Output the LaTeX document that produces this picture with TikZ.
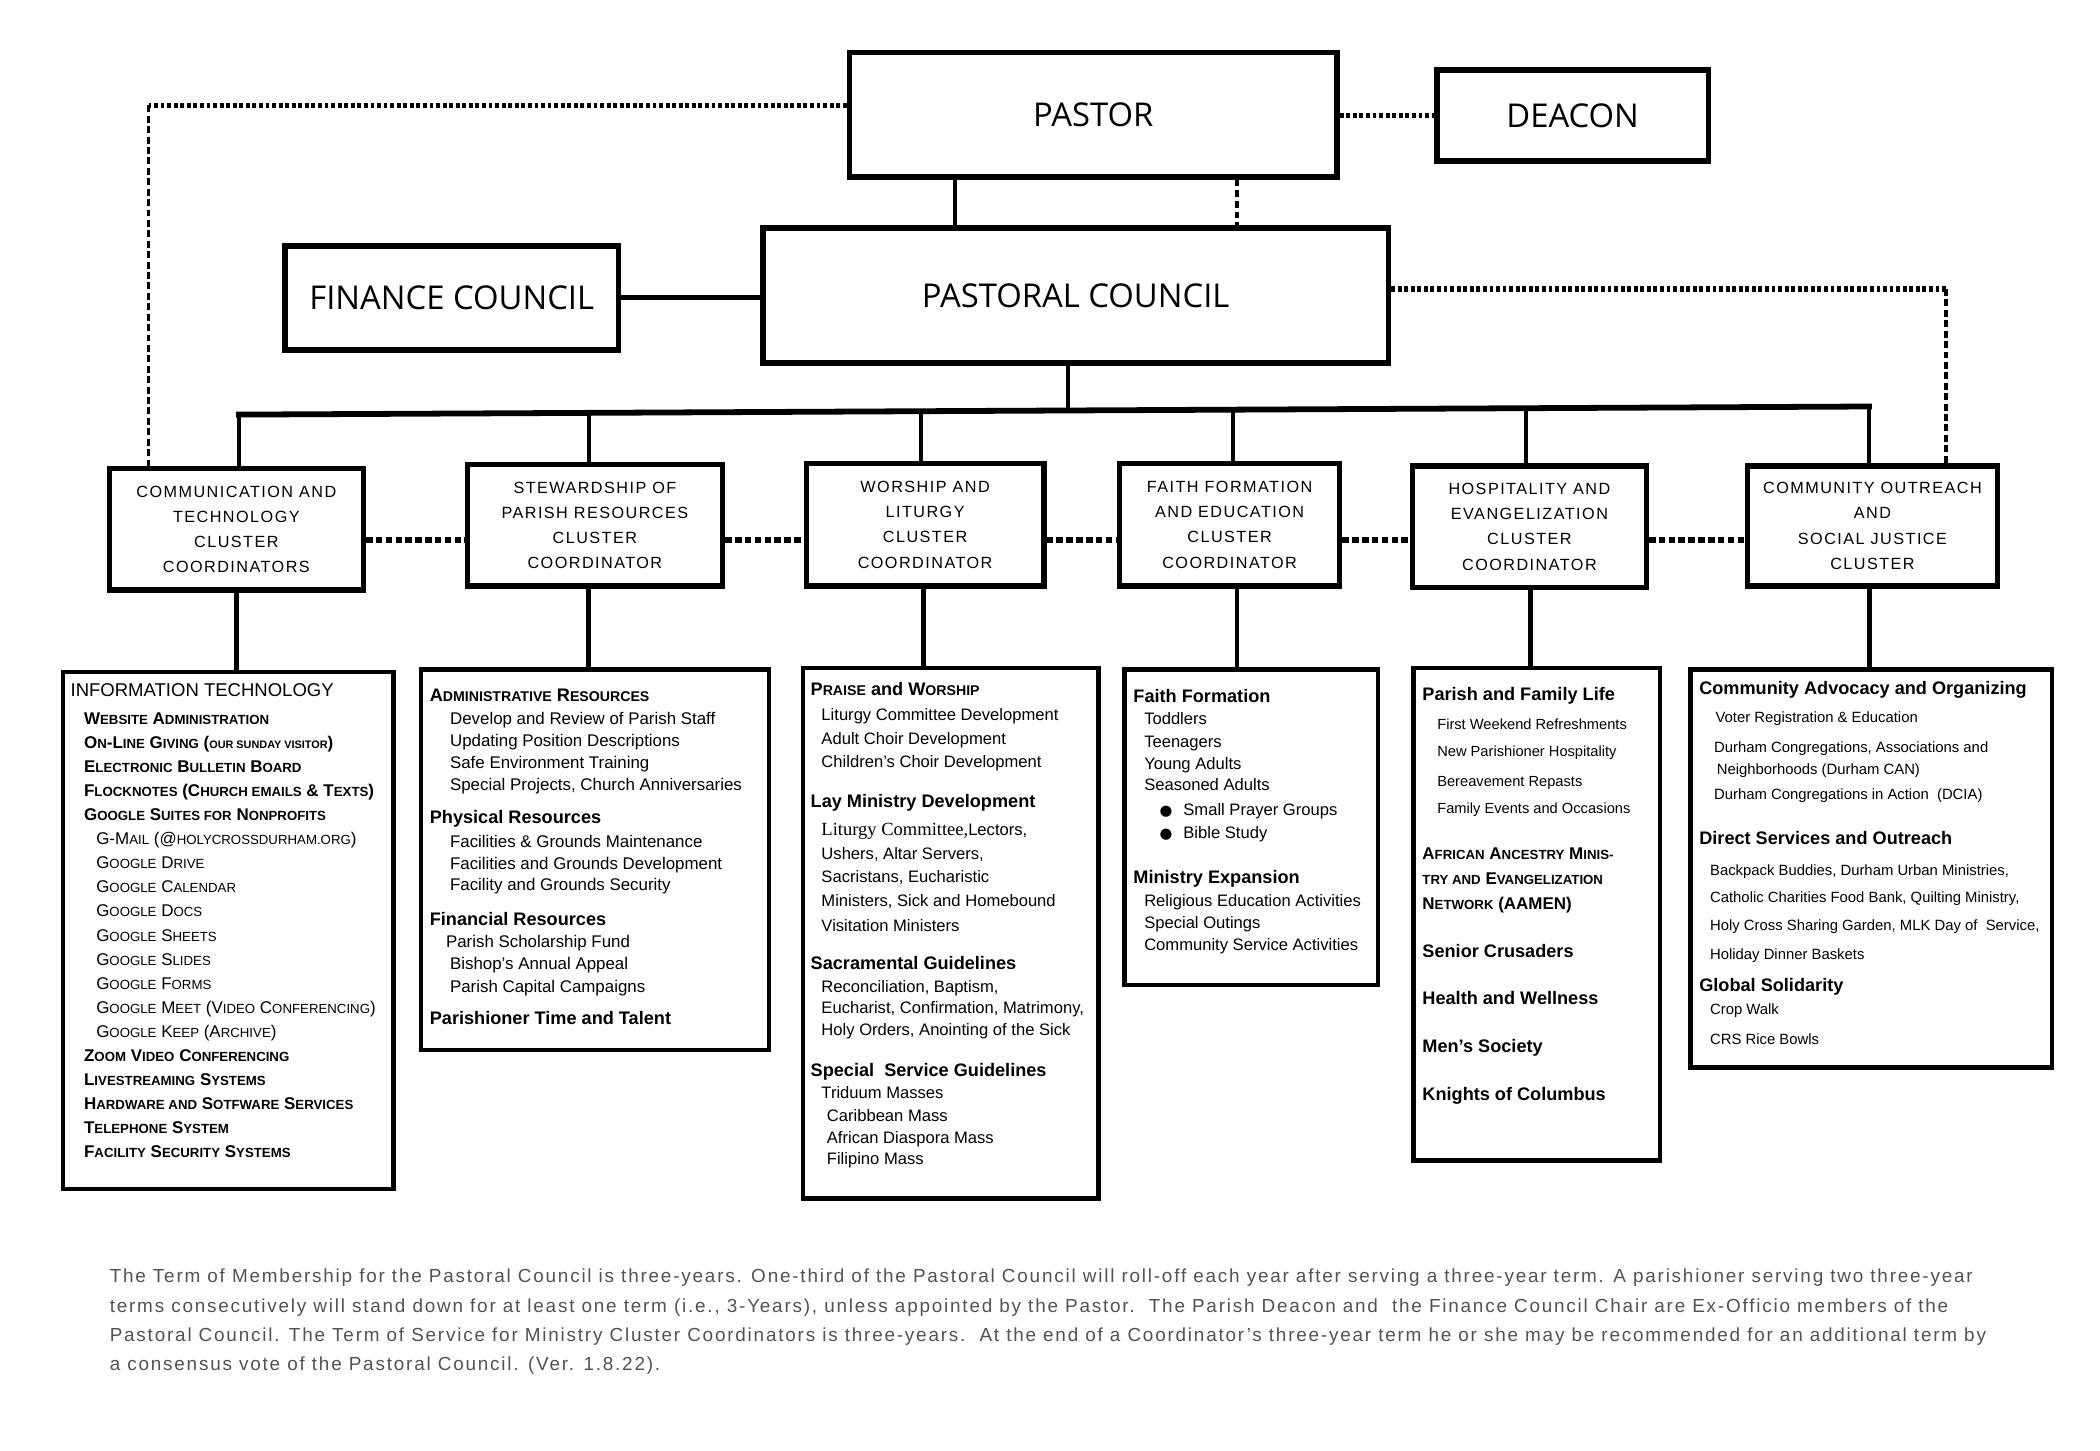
\documentclass[tikz,border=0pt]{standalone}
\usepackage{fontspec}
\setmainfont{Liberation Sans}
\newfontfamily\titlefont{Open Sans}
\newfontfamily\clusterfont[LetterSpace=9]{Liberation Sans}
\newfontfamily\footfont[LetterSpace=9.5]{Liberation Sans}
\newfontfamily\serifalt{Liberation Serif}
\newfontfamily\djv{DejaVu Sans}
\makeatletter
\newcommand\fsc[1]{{\fontsize{\fpeval{0.78*\f@size}}{0pt}\selectfont\MakeUppercase{#1}}}
\newcommand\fscs[1]{{\fontsize{\fpeval{0.64*\f@size}}{0pt}\selectfont\MakeUppercase{#1}}}
\makeatother
\newcommand\dfont[1]{\fontsize{#1}{0pt}\selectfont\lineskiplimit=-\maxdimen\relax}
\newcommand\hd[1]{{\fontsize{9.4}{0pt}\selectfont\bfseries #1}}
\newcommand\bul{\hspace*{13.6pt}\makebox[12.3pt][l]{\djv\fontsize{7.6}{0pt}\selectfont ●}}
\begin{document}
\begin{tikzpicture}[x=0.7pt,y=-0.7pt,
  topbox/.style={draw, line width=2.9pt, inner sep=0pt, font=\titlefont\fontsize{17}{20}\selectfont},
  clbox/.style={draw, line width=2.8pt, inner sep=0pt, align=center, font=\clusterfont\fontsize{8.4}{13.1}\selectfont},
  dtbox/.style={draw, line width=2.3pt, inner sep=0pt},
  dtext/.style={anchor=north west, inner sep=0pt, align=left},
  thinsolid/.style={line width=2pt},
  thindash/.style={line width=2pt, dash pattern=on 3.5pt off 2pt},
  finline/.style={line width=2.8pt},
  dotc/.style={line width=2.9pt, dash pattern=on 2pt off 1.4pt},
  dotcl/.style={line width=3pt, dash pattern=on 3.4pt off 1.7pt},
  dashv/.style={line width=1.8pt, dash pattern=on 3.6pt off 1.8pt},
  busline/.style={line width=3pt, line cap=rect},
  drop/.style={line width=2pt},
  downl/.style={line width=2.5pt}]

\fill[white] (0,0) rectangle (1555,1074);
\useasboundingbox (0,0) rectangle (1555,1074);

% top boxes
\node[topbox, minimum width=361*0.7pt, minimum height=92*0.7pt] (pastor) at (809.5,85) {PASTOR};
\node[topbox, minimum width=201*0.7pt, minimum height=67*0.7pt] (deacon) at (1164.5,85.5) {DEACON};
\node[topbox, minimum width=247*0.7pt, minimum height=77*0.7pt] (finance) at (334.5,220.5) {FINANCE COUNCIL};
\node[topbox, minimum width=463*0.7pt, minimum height=100*0.7pt] (pastoral) at (796.5,219) {PASTORAL COUNCIL};

% cluster boxes
\node[clbox, minimum width=188*0.7pt, minimum height=90*0.7pt] (cl1) at (175,392) {COMMUNICATION AND\\TECHNOLOGY\\CLUSTER\\COORDINATORS};
\node[clbox, minimum width=189*0.7pt, minimum height=90*0.7pt] (cl2) at (440.5,389) {STEWARDSHIP OF\\PARISH RESOURCES\\CLUSTER\\COORDINATOR};
\node[clbox, minimum width=176*0.7pt, minimum height=91*0.7pt] (cl3) at (685,388.5) {WORSHIP AND\\LITURGY\\CLUSTER\\COORDINATOR};
\node[clbox, minimum width=163*0.7pt, minimum height=91*0.7pt] (cl4) at (910.5,388.5) {FAITH FORMATION\\AND EDUCATION\\CLUSTER\\COORDINATOR};
\node[clbox, minimum width=173*0.7pt, minimum height=90*0.7pt] (cl5) at (1132.5,390) {HOSPITALITY AND\\EVANGELIZATION\\CLUSTER\\COORDINATOR};
\node[clbox, minimum width=185*0.7pt, minimum height=89*0.7pt] (cl6) at (1386.5,389.5) {COMMUNITY OUTREACH\\AND\\SOCIAL JUSTICE\\CLUSTER};

% detail boxes
\node[dtbox, minimum width=244.7*0.7pt, minimum height=382.7*0.7pt] (dt1) at (169,689) {};
\node[dtbox, minimum width=257.7*0.7pt, minimum height=281.7*0.7pt] (dt2) at (440.5,636.5) {};
\node[dtbox, minimum width=218.7*0.7pt, minimum height=392.7*0.7pt] (dt3) at (704,691) {};
\node[dtbox, minimum width=187.7*0.7pt, minimum height=233.7*0.7pt] (dt4) at (926.5,612.5) {};
\node[dtbox, minimum width=182.7*0.7pt, minimum height=364.7*0.7pt] (dt5) at (1138,677) {};
\node[dtbox, minimum width=267.7*0.7pt, minimum height=294.7*0.7pt] (dt6) at (1385.5,643) {};

% box 1 text
\node[dtext, font=\dfont{8.8}] (tx1) at (52,506) {%
{\fontsize{9.6}{0pt}\selectfont INFORMATION TECHNOLOGY}\\[14.35pt]
\hspace*{7pt}\textbf{W\fsc{ebsite} A\fsc{dministration}}\\[12.48pt]
\hspace*{7pt}\textbf{O\fsc{n}-L\fsc{ine} G\fsc{iving} (\fscs{our sunday visitor})}\\[12.48pt]
\hspace*{7pt}\textbf{E\fsc{lectronic} B\fsc{ulletin} B\fsc{oard}}\\[12.48pt]
\hspace*{7pt}\textbf{F\fsc{locknotes} (C\fsc{hurch emails} \& T\fsc{exts})}\\[12.48pt]
\hspace*{7pt}\textbf{G\fsc{oogle} S\fsc{uites for} N\fsc{onprofits}}\\[12.48pt]
\hspace*{13.3pt}G-M\fsc{ail} (@\fsc{holycrossdurham.org})\\[12.48pt]
\hspace*{13.3pt}G\fsc{oogle} D\fsc{rive}\\[12.48pt]
\hspace*{13.3pt}G\fsc{oogle} C\fsc{alendar}\\[12.48pt]
\hspace*{13.3pt}G\fsc{oogle} D\fsc{ocs}\\[12.48pt]
\hspace*{13.3pt}G\fsc{oogle} S\fsc{heets}\\[12.48pt]
\hspace*{13.3pt}G\fsc{oogle} S\fsc{lides}\\[12.48pt]
\hspace*{13.3pt}G\fsc{oogle} F\fsc{orms}\\[12.48pt]
\hspace*{13.3pt}G\fsc{oogle} M\fsc{eet} (V\fsc{ideo} C\fsc{onferencing})\\[12.48pt]
\hspace*{13.3pt}G\fsc{oogle} K\fsc{eep} (A\fsc{rchive})\\[12.48pt]
\hspace*{7pt}\textbf{Z\fsc{oom} V\fsc{ideo} C\fsc{onferencing}}\\[12.48pt]
\hspace*{7pt}\textbf{L\fsc{ivestreaming} S\fsc{ystems}}\\[12.48pt]
\hspace*{7pt}\textbf{H\fsc{ardware and} S\fsc{otfware} S\fsc{ervices}}\\[12.48pt]
\hspace*{7pt}\textbf{T\fsc{elephone} S\fsc{ystem}}\\[12.48pt]
\hspace*{7pt}\textbf{F\fsc{acility} S\fsc{ecurity} S\fsc{ystems}}};

% box 2 text
\node[dtext, font=\dfont{8.75}] (tx2) at (318,510) {%
\hd{A\fsc{dministrative} R\fsc{esources}}\\[12pt]
\hspace*{10.5pt}Develop and Review of Parish Staff\\[11.4pt]
\hspace*{10.5pt}Updating Position Descriptions\\[11.5pt]
\hspace*{10.5pt}Safe Environment Training\\[11.4pt]
\hspace*{10.5pt}Special Projects, Church Anniversaries\\[17pt]
\hd{Physical Resources}\\[12.4pt]
\hspace*{10.5pt}Facilities \& Grounds Maintenance\\[11.2pt]
\hspace*{10.5pt}Facilities and Grounds Development\\[11.2pt]
\hspace*{10.5pt}Facility and Grounds Security\\[17.7pt]
\hd{Financial Resources}\\[11.7pt]
\hspace*{8.4pt}Parish Scholarship Fund\\[11.2pt]
\hspace*{10.5pt}Bishop’s Annual Appeal\\[11.9pt]
\hspace*{10.5pt}Parish Capital Campaigns\\[17pt]
\hd{Parishioner Time and Talent}};

% box 3 text
\node[dtext, font=\dfont{8.6}] (tx3) at (600,505) {%
\hd{P\fsc{raise} and W\fsc{orship}}\\[13pt]
\hspace*{5.6pt}Liturgy Committee Development\\[12.6pt]
\hspace*{5.6pt}Adult Choir Development\\[11.9pt]
\hspace*{5.6pt}Children’s Choir Development\\[20.6pt]
\hd{Lay Ministry Development}\\[14.4pt]
\hspace*{5.6pt}{\serifalt\fontsize{9.6}{0pt}\selectfont Liturgy Committee,}Lectors,\\[12.6pt]
\hspace*{5.6pt}Ushers, Altar Servers,\\[11.9pt]
\hspace*{5.6pt}Sacristans, Eucharistic\\[12.6pt]
\hspace*{5.6pt}Ministers, Sick and Homebound\\[12.6pt]
\hspace*{5.6pt}Visitation Ministers\\[19.9pt]
\hd{Sacramental Guidelines}\\[11.6pt]
\hspace*{5.6pt}Reconciliation, Baptism,\\[11.2pt]
\hspace*{5.6pt}Eucharist, Confirmation, Matrimony,\\[11.2pt]
\hspace*{5.6pt}Holy Orders, Anointing of the Sick\\[21.3pt]
\hd{Special\ \ Service Guidelines}\\[11.6pt]
\hspace*{5.6pt}Triduum Masses\\[11.9pt]
\hspace*{8.4pt}Caribbean Mass\\[11.2pt]
\hspace*{8.4pt}African Diaspora Mass\\[11.2pt]
\hspace*{8.4pt}Filipino Mass};

% box 4 text
\node[dtext, font=\dfont{8.6}] (tx4) at (839,510) {%
\hd{Faith Formation}\\[11.6pt]
\hspace*{5.6pt}Toddlers\\[11.9pt]
\hspace*{5.6pt}Teenagers\\[11.2pt]
\hspace*{5.6pt}Young Adults\\[11.2pt]
\hspace*{5.6pt}Seasoned Adults\\[12.6pt]
\bul Small Prayer Groups\\[11.9pt]
\bul Bible Study\\[23.4pt]
\hd{Ministry Expansion}\\[12.3pt]
\hspace*{5.6pt}Religious Education Activities\\[11.2pt]
\hspace*{5.6pt}Special Outings\\[11.2pt]
\hspace*{5.6pt}Community Service Activities};

% box 5 text
\node[dtext, font=\dfont{7.6}] (tx5) at (1053,509) {%
\hd{Parish and Family Life}\\[14.8pt]
\hspace*{7.7pt}First Weekend Refreshments\\[14pt]
\hspace*{7.7pt}New Parishioner Hospitality\\[15.4pt]
\hspace*{7.7pt}Bereavement Repasts\\[14pt]
\hspace*{7.7pt}Family Events and Occasions\\[24.2pt]
{\fontsize{8.8}{0pt}\selectfont\bfseries A\fsc{frican} A\fsc{ncestry} M\fsc{inis-}}\\[12.6pt]
{\fontsize{8.8}{0pt}\selectfont\bfseries \fsc{try and} E\fsc{vangelization}}\\[13.3pt]
{\fontsize{8.8}{0pt}\selectfont\bfseries N\fsc{etwork} (AAMEN)}\\[24.7pt]
\hd{Senior Crusaders}\\[24.5pt]
\hd{Health and Wellness}\\[24.5pt]
\hd{Men’s Society}\\[25.2pt]
\hd{Knights of Columbus}};

% box 6 text
\node[dtext, font=\dfont{7.7}] (tx6) at (1258,504) {%
\hd{Community Advocacy and Organizing}\\[14.8pt]
\hspace*{8.4pt}Voter Registration \& Education\\[15.4pt]
\hspace*{7.7pt}Durham Congregations, Associations and\\[11.2pt]
\hspace*{9.1pt}Neighborhoods (Durham CAN)\\[13.3pt]
\hspace*{7.7pt}Durham Congregations in Action\ \ (DCIA)\\[23pt]
\hd{Direct Services and Outreach}\\[16.2pt]
\hspace*{5.6pt}Backpack Buddies, Durham Urban Ministries,\\[14pt]
\hspace*{5.6pt}Catholic Charities Food Bank, Quilting Ministry,\\[14.7pt]
\hspace*{5.6pt}Holy Cross Sharing Garden, MLK Day of\ \ Service,\\[14.7pt]
\hspace*{5.6pt}Holiday Dinner Baskets\\[16.7pt]
\hd{Global Solidarity}\\[12pt]
\hspace*{5.6pt}Crop Walk\\[15.4pt]
\hspace*{5.6pt}CRS Rice Bowls};

% footer
\node[dtext, text=black!68, font=\footfont\dfont{9.8}] (foot) at (81,939.5) {%
The Term of Membership for the Pastoral Council is three-years. One-third of the Pastoral Council will roll-off each year after serving a three-year term. A parishioner serving two three-year\\[15.2pt]
terms consecutively will stand down for at least one term (i.e., 3-Years), unless appointed by the Pastor.\ \ The Parish Deacon and\ \ the Finance Council Chair are Ex-Officio members of the\\[15.2pt]
Pastoral Council. The Term of Service for Ministry Cluster Coordinators is three-years.\ \ At the end of a Coordinator’s three-year term he or she may be recommended for an additional term by\\[15.2pt]
a consensus vote of the Pastoral Council. (Ver. 1.8.22).};

% connectors top
\coordinate (xPP) at (707,0);
\coordinate (xPD) at (916,0);
\draw[thinsolid] (pastor.south -| xPP) -- (pastoral.north -| xPP);
\draw[thindash] (pastor.south -| xPD) -- (pastoral.north -| xPD);
\draw[finline] (finance.east) -- (pastoral.west |- finance.east);
\draw[dotc] (pastor.east |- deacon.west) -- (deacon.west);
\coordinate (lc) at (110,78);
\draw[dotc] (pastor.west |- lc) -- (lc);
\draw[dashv] (lc) -- (lc |- cl1.north);
\coordinate (rc) at (1441,214);
\draw[dotc] (pastoral.east |- rc) -- (rc);
\draw[dashv] (rc) -- (rc |- cl6.north);

% bus
\coordinate (b1) at (177,307);
\coordinate (b2) at (436,305.7);
\coordinate (b3) at (682,304.5);
\coordinate (b4) at (913,303.3);
\coordinate (b5) at (1130,302.3);
\coordinate (b6) at (1384,301);
\coordinate (bm) at (791,304);
\draw[busline] (b1) -- (b6);
\draw[drop] (pastoral.south -| bm) -- (bm);
\draw[drop] (b1) -- (b1 |- cl1.north);
\draw[drop] (b2) -- (b2 |- cl2.north);
\draw[drop] (b3) -- (b3 |- cl3.north);
\draw[drop] (b4) -- (b4 |- cl4.north);
\draw[drop] (b5) -- (b5 |- cl5.north);
\draw[drop] (b6) -- (b6 |- cl6.north);

% cluster links
\coordinate (hd) at (0,400);
\draw[dotcl] (cl1.east |- hd) -- (cl2.west |- hd);
\draw[dotcl] (cl2.east |- hd) -- (cl3.west |- hd);
\draw[dotcl] (cl3.east |- hd) -- (cl4.west |- hd);
\draw[dotcl] (cl4.east |- hd) -- (cl5.west |- hd);
\draw[dotcl] (cl5.east |- hd) -- (cl6.west |- hd);

% cluster to detail
\coordinate (d1) at (175,0);
\coordinate (d2) at (436,0);
\coordinate (d3) at (684,0);
\coordinate (d4) at (916,0);
\coordinate (d5) at (1133,0);
\coordinate (d6) at (1384,0);
\draw[downl] (cl1.south -| d1) -- (dt1.north -| d1);
\draw[downl] (cl2.south -| d2) -- (dt2.north -| d2);
\draw[downl] (cl3.south -| d3) -- (dt3.north -| d3);
\draw[downl] (cl4.south -| d4) -- (dt4.north -| d4);
\draw[downl] (cl5.south -| d5) -- (dt5.north -| d5);
\draw[downl] (cl6.south -| d6) -- (dt6.north -| d6);
\end{tikzpicture}
\end{document}
